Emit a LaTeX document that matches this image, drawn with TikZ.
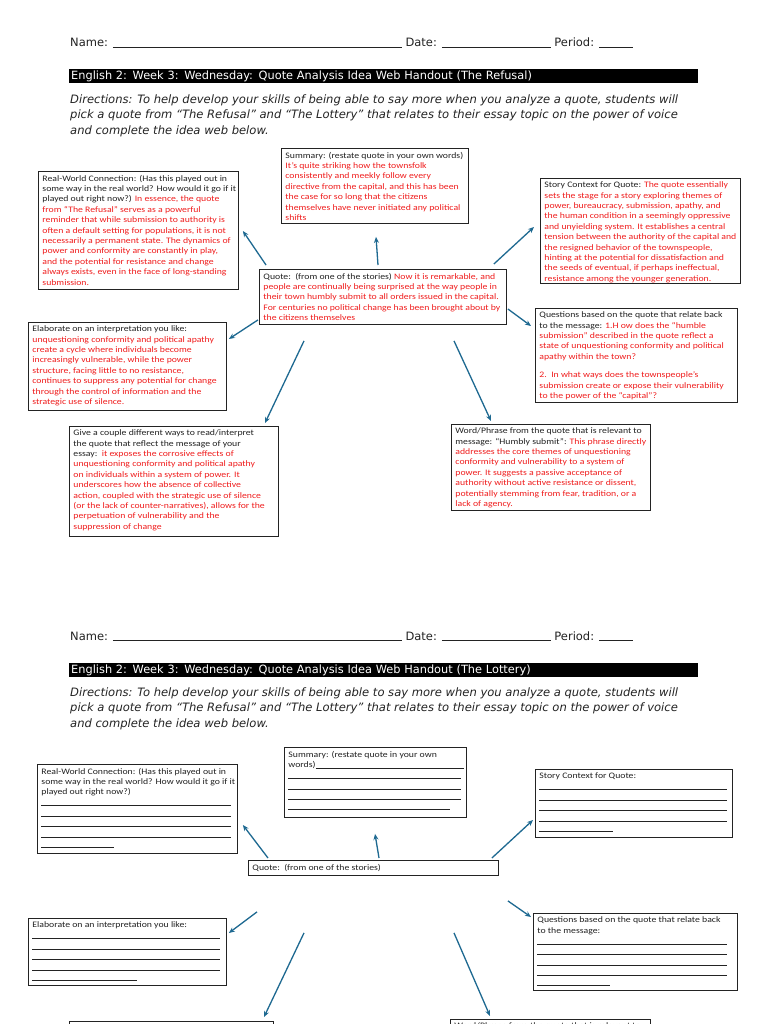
\documentclass[tikz,border=0pt]{standalone}
\usepackage{fontspec}
\setmainfont{Carlito}[FakeStretch=1.16]
\newfontfamily\hdr{DejaVu Sans}
\usetikzlibrary{arrows.meta}
\definecolor{rd}{RGB}{240,30,30}
\definecolor{tx}{RGB}{35,35,35}
\definecolor{ar}{RGB}{30,105,145}
\newcommand\R[1]{\textcolor{rd}{#1}}
\newcommand\bxf{\fontsize{8.4}{10.4}\selectfont}
\newcommand\pb[3]{\parbox[c][#2pt][t]{#1pt}{\bxf #3}}
\newcommand\li[1]{\mbox{#1}\par}
\newcommand\rli[1]{\mbox{\R{#1}}\par}
\newcommand\hl[1]{\rule[-0.8pt]{#1pt}{0.6pt}}
\newcommand\hli[1]{\mbox{\hl{#1}}\par}
\tikzset{
  wb/.style={draw=tx, line width=0.9pt, inner xsep=4pt, inner ysep=3.5pt, anchor=north west, text=tx},
  arr/.style={draw=ar, line width=1.3pt, -{Stealth[length=6pt,width=5pt]}},
  hdrline/.style={anchor=base west, inner sep=0pt, text=tx, font=\hdr\fontsize{11.5}{14}\selectfont},
  bar/.style={fill=black, text=white, anchor=north west, minimum height=14pt, inner xsep=2pt, inner ysep=0pt, text width=625pt, align=left, font=\hdr\fontsize{11.35}{12}\selectfont},
  dirs/.style={anchor=north west, inner sep=0pt, text=tx, align=left, font=\hdr\itshape\fontsize{11.55}{15.5}\selectfont},
}
\begin{document}
\begin{tikzpicture}[x=1pt,y=-1pt]
\useasboundingbox[fill=white] (0,0) rectangle (768,1024);

% ================= TOP HANDOUT =================
\node[hdrline] (name1) at (70,47) {Name: \hl{289} Date: \hl{109} Period: \hl{34}};
\node[bar] (bar1) at (69,69) {English 2: Week 3: Wednesday: Quote Analysis Idea Web Handout (The Refusal)};
\node[dirs] (dir1) at (70,94.5) {Directions: To help develop your skills of being able to say more when you analyze a quote, students will\\
pick a quote from “The Refusal” and “The Lottery” that relates to their essay topic on the power of voice\\
and complete the idea web below.};

\node[wb] (rw1) at (38,171) {\pb{192}{111}{%
\li{Real-World Connection: (Has this played out in}
\li{some way in the real world? How would it go if it}
\li{played out right now?) \R{In essence, the quote}}
\rli{from “The Refusal” serves as a powerful}
\rli{reminder that while submission to authority is}
\rli{often a default setting for populations, it is not}
\rli{necessarily a permanent state. The dynamics of}
\rli{power and conformity are constantly in play,}
\rli{and the potential for resistance and change}
\rli{always exists, even in the face of long-standing}
\rli{submission.}}};

\node[wb] (sm1) at (281,148) {\pb{179}{68}{%
\li{Summary: (restate quote in your own words)}
\rli{It’s quite striking how the townsfolk}
\rli{consistently and meekly follow every}
\rli{directive from the capital, and this has been}
\rli{the case for so long that the citizens}
\rli{themselves have never initiated any political}
\rli{shifts}}};

\node[wb] (sc1) at (540,178) {\pb{192}{98}{%
\li{Story Context for Quote: \R{The quote essentially}}
\rli{sets the stage for a story exploring themes of}
\rli{power, bureaucracy, submission, apathy, and}
\rli{the human condition in a seemingly oppressive}
\rli{and unyielding system. It establishes a central}
\rli{tension between the authority of the capital and}
\rli{the resigned behavior of the townspeople,}
\rli{hinting at the potential for dissatisfaction and}
\rli{the seeds of eventual, if perhaps ineffectual,}
\rli{resistance among the younger generation.}}};

\node[wb] (q1) at (259,269) {\pb{239}{48}{%
\li{Quote:\ \ (from one of the stories) \R{Now it is remarkable, and}}
\rli{people are continually being surprised at the way people in}
\rli{their town humbly submit to all orders issued in the capital.}
\rli{For centuries no political change has been brought about by}
\rli{the citizens themselves}}};

\node[wb] (el1) at (28,322) {\pb{190}{81}{%
\li{Elaborate on an interpretation you like:}
\rli{unquestioning conformity and political apathy}
\rli{create a cycle where individuals become}
\rli{increasingly vulnerable, while the power}
\rli{structure, facing little to no resistance,}
\rli{continues to suppress any potential for change}
\rli{through the control of information and the}
\rli{strategic use of silence.}}};

\node[wb] (qs1) at (535,308) {\pb{194}{87}{%
\li{Questions based on the quote that relate back}
\li{to the message: \R{1.H ow does the “humble}}
\rli{submission” described in the quote reflect a}
\rli{state of unquestioning conformity and political}
\rli{apathy within the town?}
\vspace{8pt}
\rli{2.\ \ In what ways does the townspeople’s}
\rli{submission create or expose their vulnerability}
\rli{to the power of the “capital”?}}};

\node[wb] (gv1) at (69,426) {\pb{201}{103}{%
\li{Give a couple different ways to read/interpret}
\li{the quote that reflect the message of your}
\li{essay:\ \ \R{it exposes the corrosive effects of}}
\rli{unquestioning conformity and political apathy}
\rli{on individuals within a system of power. It}
\rli{underscores how the absence of collective}
\rli{action, coupled with the strategic use of silence}
\rli{(or the lack of counter-narratives), allows for the}
\rli{perpetuation of vulnerability and the}
\rli{suppression of change}}};

\node[wb] (wp1) at (451,424) {\pb{191}{79}{%
\li{Word/Phrase from the quote that is relevant to}
\li{message: “Humbly submit”: \R{This phrase directly}}
\rli{addresses the core themes of unquestioning}
\rli{conformity and vulnerability to a system of}
\rli{power. It suggests a passive acceptance of}
\rli{authority without active resistance or dissent,}
\rli{potentially stemming from fear, tradition, or a}
\rli{lack of agency.}}};

\draw[arr] ([shift={(7,-4)}]q1.north west) -- ([shift={(4,60)}]rw1.north east);
\draw[arr] ([shift={(119,-4)}]q1.north west) -- ([shift={(95,13)}]sm1.south west);
\draw[arr] ([shift={(-13,-5)}]q1.north east) -- ([shift={(-6,49)}]sc1.north west);
\draw[arr] ([shift={(1,40)}]q1.north east) -- ([shift={(-4,18)}]qs1.north west);
\draw[arr] ([shift={(-1,-5)}]q1.south west) -- ([shift={(2,17)}]el1.north east);
\draw[arr] ([shift={(45,16)}]q1.south west) -- ([shift={(196,-3)}]gv1.north west);
\draw[arr] ([shift={(195,16)}]q1.south west) -- ([shift={(40,-3)}]wp1.north west);

% ================= BOTTOM HANDOUT =================
\node[hdrline] (name2) at (70,640) {Name: \hl{289} Date: \hl{109} Period: \hl{34}};
\node[bar] (bar2) at (69,663) {English 2: Week 3: Wednesday: Quote Analysis Idea Web Handout (The Lottery)};
\node[dirs] (dir2) at (70,687.5) {Directions: To help develop your skills of being able to say more when you analyze a quote, students will\\
pick a quote from “The Refusal” and “The Lottery” that relates to their essay topic on the power of voice\\
and complete the idea web below.};

\node[wb] (sm2) at (284,747) {\pb{174}{63}{%
\li{Summary: (restate quote in your own}
\li{words)\hl{148}}
\hli{173}\hli{173}\hli{173}\hli{162}}};

\node[wb] (rw2) at (37,764) {\pb{192}{82}{%
\li{Real-World Connection: (Has this played out in}
\li{some way in the real world? How would it go if it}
\li{played out right now?)}
\hli{190}\hli{190}\hli{190}\hli{190}\hli{73}}};

\node[wb] (sc2) at (535,769) {\pb{189}{61}{%
\li{Story Context for Quote:}
\hli{188}\hli{188}\hli{188}\hli{188}\hli{74}}};

\node[wb] (q2) at (248,860) {\pb{242}{8}{%
\li{Quote:\ \ (from one of the stories)}}};

\node[wb] (el2) at (28,918) {\pb{190}{60}{%
\li{Elaborate on an interpretation you like:}
\hli{188}\hli{188}\hli{188}\hli{188}\hli{105}}};

\node[wb] (qs2) at (533,913) {\pb{196}{70}{%
\li{Questions based on the quote that relate back}
\li{to the message:}
\hli{190}\hli{190}\hli{190}\hli{190}\hli{73}}};

\node[wb] (gv2) at (69,1021) {\pb{196}{62}{\li{}}};

\node[wb] (wp2) at (450,1019) {\pb{192}{62}{%
\li{Word/Phrase from the quote that is relevant to}}};

\draw[arr] ([shift={(20,-2)}]q2.north west) -- ([shift={(5,61)}]rw2.north east);
\draw[arr] ([shift={(131,-2)}]q2.north west) -- ([shift={(91,16)}]sm2.south west);
\draw[arr] ([shift={(-7,-2)}]q2.north east) -- ([shift={(-2,51)}]sc2.north west);
\draw[arr] ([shift={(9,25)}]q2.south east) -- ([shift={(-2,4)}]qs2.north west);
\draw[arr] ([shift={(9,36)}]q2.south west) -- ([shift={(2,15)}]el2.north east);
\draw[arr] ([shift={(56,57)}]q2.south west) -- ([shift={(195,-4)}]gv2.north west);
\draw[arr] ([shift={(206,57)}]q2.south west) -- ([shift={(40,-3)}]wp2.north west);
\end{tikzpicture}
\end{document}
